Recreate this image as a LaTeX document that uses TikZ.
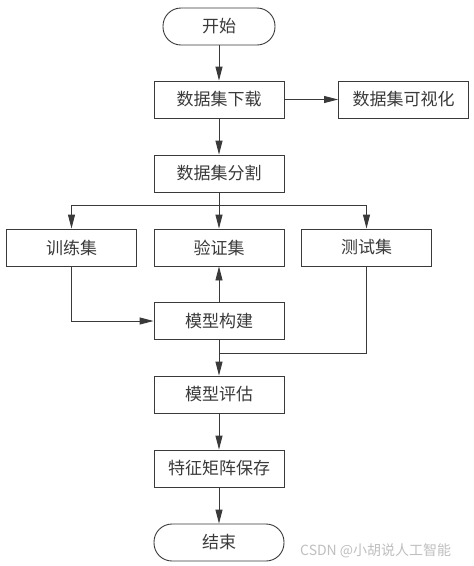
\documentclass[tikz,border=0pt]{standalone}
\usepackage{fontspec}
\newfontfamily\cjk{Noto Sans CJK SC}
\usetikzlibrary{arrows.meta}
\definecolor{ink}{HTML}{3a3a3a}
\tikzset{
  box/.style={draw=ink, line width=0.9pt, minimum width=130pt, minimum height=37pt, inner sep=0pt, font=\cjk\fontsize{17}{19}\selectfont, text=ink},
  term/.style={box, rounded corners=18pt, minimum width=112pt},
  link/.style={draw=ink, line width=0.9pt},
  arr/.style={link, -{Triangle[length=14pt,width=7pt]}},
}
\begin{document}
\begin{tikzpicture}[x=1pt,y=-1pt]
\useasboundingbox[fill=white] (0,0) rectangle (474,566);
\node[term] (start) at (219,26.5) {开始};
\node[box] (dl) at (219,99.5) {数据集下载};
\node[box] (vis) at (403.5,99.5) {数据集可视化};
\node[box] (split) at (219,173.5) {数据集分割};
\node[box] (train) at (71.5,247.5) {训练集};
\node[box] (val) at (219,247.5) {验证集};
\node[box] (test) at (366.5,247.5) {测试集};
\node[box] (model) at (219,321) {模型构建};
\node[box] (eval) at (219,394.5) {模型评估};
\node[box] (save) at (219,468.5) {特征矩阵保存};
\node[term, minimum width=130pt] (end) at (219,542.5) {结束};
\coordinate (b) at (219,205);
\coordinate (j) at (219,353);
\draw[arr] (start) -- (dl);
\draw[arr] (dl) -- (vis);
\draw[arr] (dl) -- (split);
\draw[link] (split.south) -- (b);
\draw[arr] (b) -| (train.north);
\draw[arr] (b) -- (val.north);
\draw[arr] (b) -| (test.north);
\draw[arr] (train.south) |- (model.west);
\draw[arr] (model.north) -- (val.south);
\draw[link] (test.south) |- (j);
\draw[arr] (model.south) -- (eval.north);
\draw[arr] (eval) -- (save);
\draw[arr] (save) -- (end);
\node[anchor=west, text=gray!50, font=\cjk\fontsize{14}{16}\selectfont, inner sep=0pt] (wm) at (300,551) {CSDN @小胡说人工智能};
\end{tikzpicture}
\end{document}
